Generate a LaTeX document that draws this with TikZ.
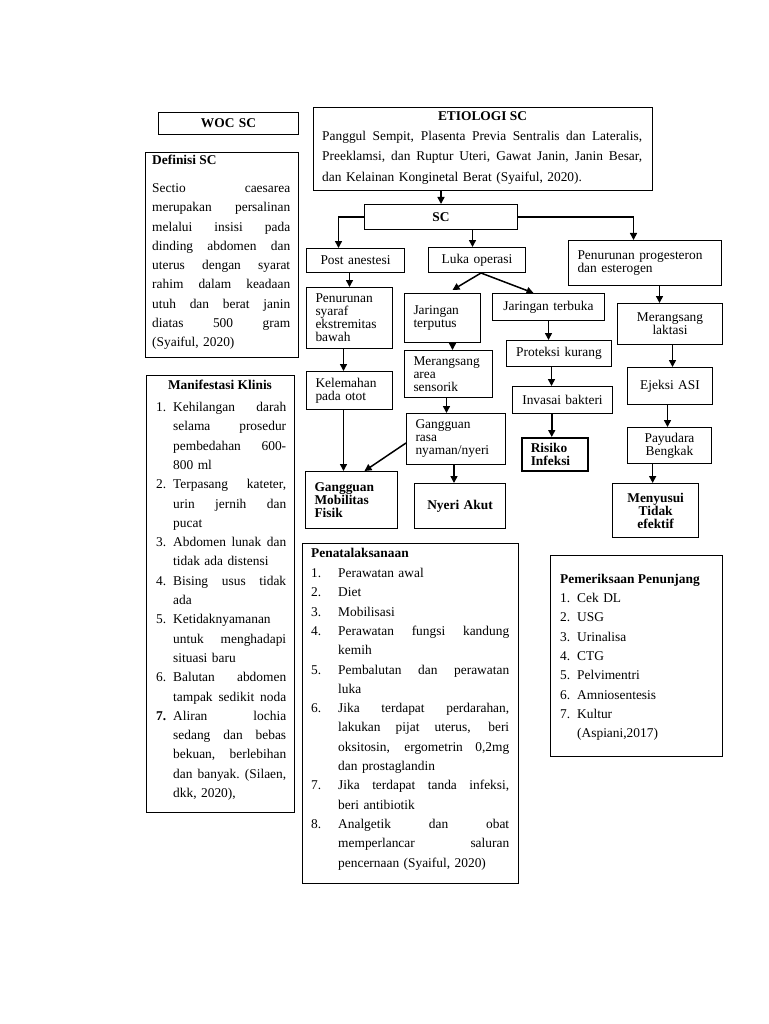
\documentclass[tikz,border=0pt]{standalone}
\usepackage{fontspec}
\setmainfont{Liberation Serif}
\usetikzlibrary{arrows.meta}
\newcommand\fs{\fontsize{13.4}{13}\selectfont}
\newcommand\lfs{\fontsize{13.4}{19.3}\selectfont}
\newcommand\efs{\fontsize{13.4}{20.5}\selectfont}
\newcommand\jline[2]{\makebox[#1][s]{\spaceskip=.3333em plus 3em\xspaceskip=.3333em plus 3em\relax #2}}
\newcommand\dJ[1]{\jline{138pt}{#1}}
\newcommand\eJ[1]{\jline{320pt}{#1}}
\newcommand\mJ[1]{\jline{113pt}{#1}}
\newcommand\pJ[1]{\jline{171pt}{#1}}
\newcommand\mN[1]{\makebox[17pt][l]{#1}}
\newcommand\mH{\hspace*{17pt}}
\newcommand\pN[1]{\makebox[27pt][l]{#1}}
\newcommand\pH{\hspace*{27pt}}
\begin{document}
\begin{tikzpicture}[x=1pt,y=-1pt,
  box/.style={draw, line width=1pt, inner xsep=9pt, inner ysep=0pt, anchor=north west, font=\fs},
  frame/.style={draw, line width=1pt, inner sep=0pt, anchor=north west},
  txt/.style={inner sep=0pt, anchor=base west, align=left},
  arr/.style={line width=1.5pt, -{Triangle[length=7pt,width=7pt]}},
  ]
\useasboundingbox (0,0) rectangle (768,1024);
\fill[white] (0,0) rectangle (768,1024);

% WOC SC
\node[box, minimum width=140pt, minimum height=22pt, text width=122pt, align=center, font=\fs\bfseries] (woc) at (158,112) {WOC SC};

% Etiologi
\node[frame, minimum width=339pt, minimum height=83pt] (etio) at (313,107) {};
\node[inner sep=0pt, font=\fs\bfseries] (etiot) at (482.5,116) {ETIOLOGI SC};
\node[txt, text width=320pt, font=\efs] (etiob) at (322,140.5) {%
\eJ{Panggul Sempit, Plasenta Previa Sentralis dan Lateralis,}\\
\eJ{Preeklamsi, dan Ruptur Uteri, Gawat Janin, Janin Besar,}\\
dan Kelainan Konginetal Berat (Syaiful, 2020).};

% Definisi
\node[frame, minimum width=153pt, minimum height=205pt] (def) at (145,152) {};
\node[txt, font=\fs\bfseries] (deft) at (152,164.5) {Definisi SC};
\node[txt, text width=138pt, font=\lfs] (defb) at (152,192.5) {%
\dJ{Sectio caesarea}\\
\dJ{merupakan persalinan}\\
\dJ{melalui insisi pada}\\
\dJ{dinding abdomen dan}\\
\dJ{uterus dengan syarat}\\
\dJ{rahim dalam keadaan}\\
\dJ{utuh dan berat janin}\\
\dJ{diatas 500 gram}\\
(Syaiful, 2020)};

% Flow
\node[box, minimum width=153pt, minimum height=25pt, text width=135pt, align=center, font=\fs\bfseries] (sc) at (364,204) {SC};
\node[box, minimum width=98pt, minimum height=24pt, text width=80pt, align=center] (pa) at (306,248) {Post anestesi};
\node[box, minimum width=97pt, minimum height=25pt, text width=79pt, align=center] (lo) at (428,247) {Luka operasi};
\node[box, minimum width=153pt, minimum height=45pt, text width=135pt, align=left] (pp) at (568,240) {Penurunan progesteron\\dan esterogen};

\node[box, minimum width=86pt, minimum height=61pt, text width=68pt, align=left] (ps) at (306,287) {Penurunan\\syaraf\\ekstremitas\\bawah};
\node[box, minimum width=86pt, minimum height=38pt, text width=68pt, align=left] (kel) at (306,371) {Kelemahan\\pada otot};
\node[box, minimum width=92pt, minimum height=57pt, text width=74pt, align=left, font=\fs\bfseries] (gmf) at (305,471) {Gangguan\\Mobilitas\\Fisik};

\node[box, minimum width=76pt, minimum height=49pt, text width=58pt, align=left] (jtp) at (404,293) {Jaringan\\terputus};
\node[box, minimum width=88pt, minimum height=47pt, text width=70pt, align=left] (mas) at (404,350) {Merangsang\\area\\sensorik};
\node[box, minimum width=99pt, minimum height=51pt, text width=81pt, align=left] (grn) at (406,413) {Gangguan\\rasa\\nyaman/nyeri};
\node[box, minimum width=91pt, minimum height=45pt, text width=73pt, align=center, font=\fs\bfseries] (na) at (414,483) {Nyeri Akut};

\node[box, minimum width=112pt, minimum height=27pt, text width=94pt, align=center] (jtb) at (492,293) {Jaringan terbuka};
\node[box, minimum width=105pt, minimum height=26pt, text width=87pt, align=center] (pk) at (506,340) {Proteksi kurang};
\node[box, minimum width=100pt, minimum height=27pt, text width=82pt, align=center] (ib) at (512,386) {Invasai bakteri};
\node[box, line width=1.5pt, minimum width=66pt, minimum height=33pt, text width=48pt, align=left, font=\fs\bfseries] (ri) at (521,437) {Risiko\\Infeksi};

\node[box, minimum width=105pt, minimum height=41pt, text width=87pt, align=center] (ml) at (617,303) {Merangsang\\laktasi};
\node[box, minimum width=85pt, minimum height=37pt, text width=67pt, align=center] (ej) at (627,367) {Ejeksi ASI};
\node[box, minimum width=84pt, minimum height=36pt, text width=66pt, align=center] (pb) at (627,427) {Payudara\\Bengkak};
\node[box, line width=1.3pt, minimum width=86pt, minimum height=54pt, text width=68pt, align=center, font=\fs\bfseries] (mte) at (612,483) {Menyusui\\Tidak\\efektif};

% Connectors
\draw[arr] (sc.north |- etio.south) -- (sc.north);
\draw[arr] (sc.west) -| ([xshift=-17pt]pa.north);
\draw[arr] ([xshift=-4.5pt]lo.north |- sc.south) -- ([xshift=-4.5pt]lo.north);
\draw[arr] (sc.east) -| ([xshift=-11.5pt]pp.north);
\draw[arr] (ps.north |- pa.south) -- (ps.north);
\draw[arr] ([xshift=-6pt]ps.south) -- ([xshift=-6pt]kel.north);
\draw[arr] ([xshift=-6pt]kel.south) -- ([xshift=-6pt]kel.south |- gmf.north);
\draw[arr] ([xshift=4pt]lo.south) -- ([xshift=10pt,yshift=3pt]jtp.north);
\draw[arr] ([xshift=4pt]lo.south) -- ([xshift=-15pt]jtb.north);
\draw[arr] ([xshift=4pt]mas.north |- jtp.south) -- ([xshift=4pt]mas.north);
\draw[arr] ([xshift=-2pt]mas.south) -- ([xshift=-2pt]mas.south |- grn.north);
\draw[arr] ([yshift=-4pt]grn.west) -- ([xshift=13pt]gmf.north);
\draw[arr] ([xshift=-6pt]na.north |- grn.south) -- ([xshift=-6pt]na.north);
\draw[arr] (jtb.south) -- (jtb.south |- pk.north);
\draw[arr] ([xshift=-11pt]ib.north |- pk.south) -- ([xshift=-11pt]ib.north);
\draw[arr] ([xshift=-3pt]ri.north |- ib.south) -- ([xshift=-3pt]ri.north);
\draw[arr] ([xshift=-10.5pt]ml.north |- pp.south) -- ([xshift=-10.5pt]ml.north);
\draw[arr] ([xshift=2.5pt]ej.north |- ml.south) -- ([xshift=2.5pt]ej.north);
\draw[arr] ([xshift=-2pt]pb.north |- ej.south) -- ([xshift=-2pt]pb.north);
\draw[arr] ([xshift=-3pt]mte.north |- pb.south) -- ([xshift=-3pt]mte.north);

% Manifestasi Klinis
\node[frame, minimum width=148pt, minimum height=437pt] (mk) at (146,375) {};
\node[inner sep=0pt, font=\fs\bfseries] (mkt) at (220,385) {Manifestasi Klinis};
\node[txt, text width=130pt, font=\lfs] (mkb) at (156,411.5) {%
\mN{1.}\mJ{Kehilangan darah}\\
\mH\mJ{selama prosedur}\\
\mH\mJ{pembedahan 600-}\\
\mH 800 ml\\
\mN{2.}\mJ{Terpasang kateter,}\\
\mH\mJ{urin jernih dan}\\
\mH pucat\\
\mN{3.}\mJ{Abdomen lunak dan}\\
\mH tidak ada distensi\\
\mN{4.}\mJ{Bising usus tidak}\\
\mH ada\\
\mN{5.}Ketidaknyamanan\\
\mH\mJ{untuk menghadapi}\\
\mH situasi baru\\
\mN{6.}\mJ{Balutan abdomen}\\
\mH\mJ{tampak sedikit noda}\\
\mN{\textbf{7.}}\mJ{Aliran lochia}\\
\mH\mJ{sedang dan bebas}\\
\mH\mJ{bekuan, berlebihan}\\
\mH\mJ{dan banyak. (Silaen,}\\
\mH dkk, 2020),};

% Penatalaksanaan
\node[frame, minimum width=216pt, minimum height=340pt] (pen) at (302,543) {};
\node[txt, font=\fs\bfseries] (pent) at (311,557.5) {Penatalaksanaan};
\node[txt, text width=198pt, font=\lfs] (penb) at (311,577.5) {%
\pN{1.}Perawatan awal\\
\pN{2.}Diet\\
\pN{3.}Mobilisasi\\
\pN{4.}\pJ{Perawatan fungsi kandung}\\
\pH kemih\\
\pN{5.}\pJ{Pembalutan dan perawatan}\\
\pH luka\\
\pN{6.}\pJ{Jika terdapat perdarahan,}\\
\pH\pJ{lakukan pijat uterus, beri}\\
\pH\pJ{oksitosin, ergometrin 0,2mg}\\
\pH dan prostaglandin\\
\pN{7.}\pJ{Jika terdapat tanda infeksi,}\\
\pH beri antibiotik\\
\pN{8.}\pJ{Analgetik dan obat}\\
\pH\pJ{memperlancar saluran}\\
\pH pencernaan (Syaiful, 2020)};

% Pemeriksaan Penunjang
\node[frame, minimum width=172pt, minimum height=201pt] (pem) at (550,555) {};
\node[txt, font=\fs\bfseries] (pemt) at (560,583.5) {Pemeriksaan Penunjang};
\node[txt, text width=155pt, font=\lfs] (pemb) at (560,602.5) {%
\mN{1.}Cek DL\\
\mN{2.}USG\\
\mN{3.}Urinalisa\\
\mN{4.}CTG\\
\mN{5.}Pelvimentri\\
\mN{6.}Amniosentesis\\
\mN{7.}Kultur\\
\mH(Aspiani,2017)};
\end{tikzpicture}
\end{document}
